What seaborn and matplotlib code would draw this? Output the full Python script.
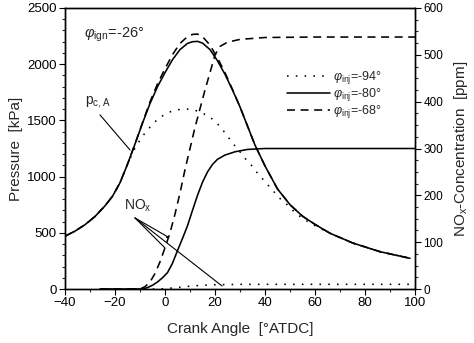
import matplotlib
matplotlib.use("Agg")
import matplotlib.pyplot as plt
from matplotlib.ticker import MultipleLocator
import seaborn as sns

# ---------------- data ----------------
# Pressure [kPa] vs crank angle [deg ATDC]
ang_p80 = [-40, -36, -32, -28, -24, -21, -18, -15, -12, -9, -6, -3, 0, 3, 6, 9, 11, 13, 15, 18, 21,
           24, 27, 30, 33, 36, 40, 45, 50, 55, 60, 66, 75, 86, 98]
p_80 = [470, 515, 572, 645, 740, 825, 945, 1110, 1290, 1475, 1650, 1800, 1925, 2040, 2130, 2185,
        2200, 2203, 2188, 2130, 2030, 1910, 1770, 1620, 1450, 1280, 1095, 890, 750, 648, 575, 496,
        410, 332, 273]

ang_p68 = [-40, -36, -32, -28, -24, -21, -18, -15, -12, -9, -6, -3, 0, 3, 6, 9, 11, 13, 15, 18, 21,
           24, 27, 30, 33, 36, 40, 45, 50, 55, 60, 66, 75, 86, 98]
p_68 = [470, 515, 572, 645, 740, 825, 945, 1110, 1290, 1480, 1665, 1825, 1960, 2085, 2185, 2245,
        2265, 2268, 2245, 2170, 2055, 1925, 1775, 1620, 1450, 1280, 1095, 890, 750, 648, 575, 496,
        410, 332, 273]

ang_p94 = [-40, -36, -32, -28, -24, -21, -18, -15, -12, -9, -6, -3, 0, 3, 6, 9, 12, 15, 18, 21, 24,
           27, 30, 32, 35, 37, 40, 43, 46, 49, 52, 55, 59, 62, 66, 75, 86, 98]
p_94 = [470, 515, 572, 645, 740, 825, 945, 1110, 1255, 1360, 1440, 1510, 1555, 1585, 1598, 1600,
        1590, 1565, 1530, 1470, 1390, 1300, 1220, 1163, 1090, 1030, 955, 880, 805, 748, 680, 629,
        576, 540, 496, 410, 332, 273]

# NOx concentration [ppm]
ang_n68 = [-26, -10, -8, -6, -4, -2, 0, 2, 4, 6, 8, 10, 12, 14, 16, 18, 20, 22, 25, 30, 40, 60, 100]
nox_68 = [0, 0, 5, 15, 33, 58, 88, 120, 160, 205, 255, 300, 345, 385, 425, 462, 500, 518, 527, 533,
          537, 538, 538]

ang_n80 = [-26, -9, -7, -5, -3, -1, 1, 3, 5, 7, 9, 11, 13, 15, 17, 19, 21, 24, 28, 33, 40, 100]
nox_80 = [0, 0, 3, 8, 15, 24, 35, 55, 82, 108, 135, 168, 200, 228, 250, 266, 277, 286, 293, 298,
          300, 300]

ang_n94 = [-26, -2, 5, 10, 15, 20, 30, 100]
nox_94 = [0, 0, 3, 6, 8, 9, 10, 10]

legend_labels = [r'$\varphi_{\rm inj}$=-94°', r'$\varphi_{\rm inj}$=-80°', r'$\varphi_{\rm inj}$=-68°']
x_ticks = [-40, -20, 0, 20, 40, 60, 80, 100]
p_ticks = [0, 500, 1000, 1500, 2000, 2500]
n_ticks = [0, 100, 200, 300, 400, 500, 600]

# ---------------- style ----------------
sns.set_theme(style="ticks")
plt.rcParams['font.family'] = ['Liberation Sans', 'DejaVu Sans']
plt.rcParams['mathtext.fontset'] = 'custom'
plt.rcParams['mathtext.rm'] = 'Liberation Sans'
plt.rcParams['mathtext.it'] = 'Liberation Sans:italic'

fig = plt.figure(figsize=(4.74, 3.43), dpi=100)
ax = fig.add_axes([65/474, 1-289/343, 350/474, 281/343])
ax2 = ax.twinx()

dot = (1, 4.5)
dash = (5, 3.5)
lw = 1.15

sns.lineplot(x=ang_p94, y=p_94, ax=ax, color='black', lw=lw, label=legend_labels[0])
ax.lines[-1].set_dashes(dot)
sns.lineplot(x=ang_p80, y=p_80, ax=ax, color='black', lw=lw, label=legend_labels[1])
sns.lineplot(x=ang_p68, y=p_68, ax=ax, color='black', lw=lw, label=legend_labels[2])
ax.lines[-1].set_dashes(dash)

sns.lineplot(x=ang_n94, y=nox_94, ax=ax2, color='black', lw=lw)
ax2.lines[-1].set_dashes(dot)
sns.lineplot(x=ang_n80, y=nox_80, ax=ax2, color='black', lw=lw)
sns.lineplot(x=ang_n68, y=nox_68, ax=ax2, color='black', lw=lw)
ax2.lines[-1].set_dashes(dash)

ax.set_xlim(-40, 100)
ax.set_ylim(0, 2500)
ax2.set_ylim(0, 600)
ax.set_xticks(x_ticks)
ax.set_yticks(p_ticks)
ax2.set_yticks(n_ticks)
ax.xaxis.set_minor_locator(MultipleLocator(10))
ax.yaxis.set_minor_locator(MultipleLocator(100))
ax2.yaxis.set_minor_locator(MultipleLocator(25))

for a in (ax, ax2):
    for s in a.spines.values():
        s.set_visible(True)
        s.set_linewidth(1.0)
        s.set_color('black')
    a.tick_params(which='major', direction='out', length=4, width=0.8, labelsize=9.5, colors='black', pad=2)
    a.tick_params(which='minor', direction='out', length=2.5, width=0.8)
ax.tick_params(axis='x', top=False, which='both')
ax2.tick_params(axis='y', labelsize=8.5)

ax.set_xlabel('Crank Angle  [°ATDC]', fontsize=11, labelpad=9)
ax.set_ylabel('Pressure  [kPa]', fontsize=11, labelpad=3)
ax2.set_ylabel(r'NO$_{\rm x}$-Concentration  [ppm]', fontsize=11, labelpad=6)

leg = ax.legend(loc='upper left', bbox_to_anchor=(0.62, 0.80), frameon=False, fontsize=9,
                handlelength=3.4, handletextpad=0.3, labelspacing=0.0, borderaxespad=0)

# annotations
ax.text(-32.5, 2260, r'$\varphi_{\rm ign}$=-26°', fontsize=10.5, va='center', ha='left')
ax.text(-32, 1660, r'p$_{\rm c,A}$', fontsize=10, va='center', ha='left')
ax.plot([-26, -14], [1549, 1237], color='black', lw=0.8)
ax.text(-16.5, 740, r'NO$_{\rm x}$', fontsize=10, va='center', ha='left')
for ex, ey in [(1.2, 463), (0.0, 365), (22.8, 27)]:
    ax.plot([-12, ex], [632, ey], color='black', lw=0.8)
ax.plot([0.3, 1.2], [463, 463], color='black', lw=0.8)

fig.savefig('out.png', dpi=100)
